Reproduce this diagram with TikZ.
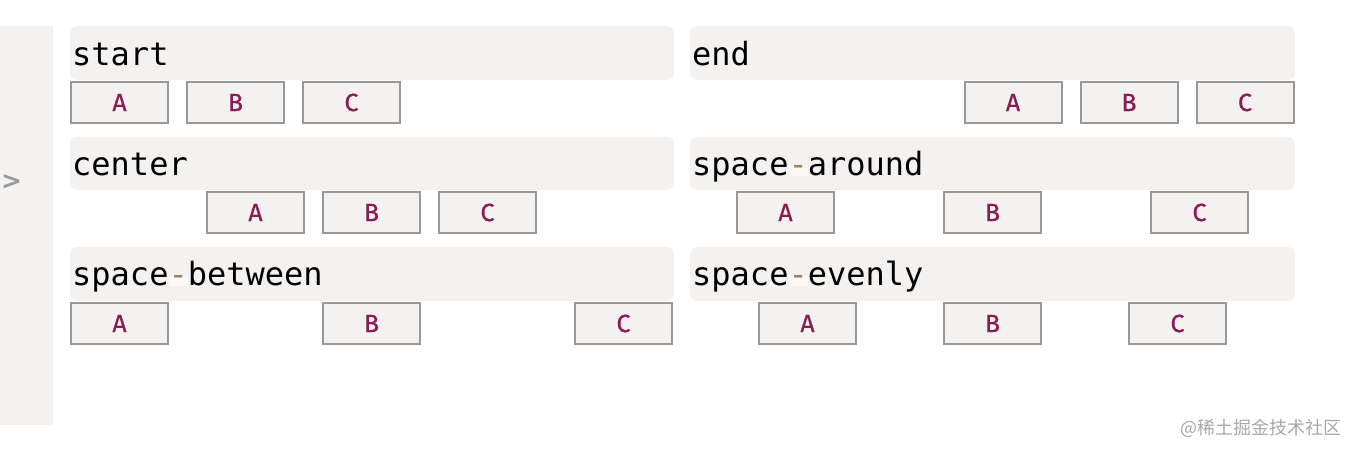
\documentclass[tikz,border=0pt]{standalone}
\usepackage{fontspec}
\setmainfont{Fira Sans}
\setmonofont{DejaVu Sans Mono}
\newfontfamily\cjkfont{Noto Sans CJK SC}
\newfontfamily\lblfont[FakeBold=0.6]{Fira Sans}
\newfontfamily\chevfont{DejaVu Sans}
\definecolor{panelbg}{HTML}{F3F2F0}
\definecolor{boxborder}{HTML}{999999}
\definecolor{lbl}{HTML}{8C1A55}
\definecolor{hyph}{HTML}{A67F59}
\definecolor{hlbg}{HTML}{FAF9F8}
\definecolor{wm}{HTML}{A8A8A8}
\newcommand{\hy}{{\setlength{\fboxsep}{0pt}\colorbox{hlbg}{\textcolor{hyph}{-}}}}
\begin{document}
\begin{tikzpicture}[x=1pt,y=-1pt,
  header/.style={fill=panelbg,rounded corners=7pt},
  itembox/.style={draw=boxborder,line width=2pt,fill=panelbg,minimum width=97pt,minimum height=41pt,inner sep=0pt,text=lbl,font=\lblfont\fontsize{25}{25}\selectfont},
  htext/.style={anchor=base west,inner sep=0pt,font=\ttfamily\fontsize{32}{32}\selectfont}]
\useasboundingbox (0,0) rectangle (1358,454);
\fill[panelbg] (0,26) rectangle (53,425);
\node[text=boxborder,font=\chevfont\bfseries\fontsize{25}{25}\selectfont,inner sep=0pt] (chev) at (11.5,182) {>};
% headers
\fill[header] (70,26) rectangle (674,80);
\fill[header] (690,26) rectangle (1295,80);
\fill[header] (70,137) rectangle (674,190);
\fill[header] (690,137) rectangle (1295,190);
\fill[header] (70,247) rectangle (674,301);
\fill[header] (690,247) rectangle (1295,301);
\node[htext] (t1) at (72,66) {start};
\node[htext] (t2) at (692,66) {end};
\node[htext] (t3) at (72,176) {center};
\node[htext] (t4) at (692,176) {space\hy around};
\node[htext] (t5) at (72,286) {space\hy between};
\node[htext] (t6) at (692,286) {space\hy evenly};
% start
\node[itembox] (sA) at (119.5,102.5) {A};
\node[itembox] (sB) at (235.5,102.5) {B};
\node[itembox] (sC) at (351.5,102.5) {C};
% end
\node[itembox] (eA) at (1013,102.5) {A};
\node[itembox] (eB) at (1129,102.5) {B};
\node[itembox] (eC) at (1245,102.5) {C};
% center
\node[itembox] (cA) at (255.5,212.5) {A};
\node[itembox] (cB) at (371.5,212.5) {B};
\node[itembox] (cC) at (487.5,212.5) {C};
% space-around
\node[itembox] (aA) at (785.5,212.5) {A};
\node[itembox] (aB) at (992.5,212.5) {B};
\node[itembox] (aC) at (1199.5,212.5) {C};
% space-between
\node[itembox] (bA) at (119.5,323.5) {A};
\node[itembox] (bB) at (371.5,323.5) {B};
\node[itembox] (bC) at (623.5,323.5) {C};
% space-evenly
\node[itembox] (vA) at (807.5,323.5) {A};
\node[itembox] (vB) at (992.5,323.5) {B};
\node[itembox] (vC) at (1177.5,323.5) {C};
\node[anchor=east,inner sep=0pt,text=wm,font=\cjkfont\fontsize{18}{18}\selectfont] (wmk) at (1342,428) {@稀土掘金技术社区};
\end{tikzpicture}
\end{document}
